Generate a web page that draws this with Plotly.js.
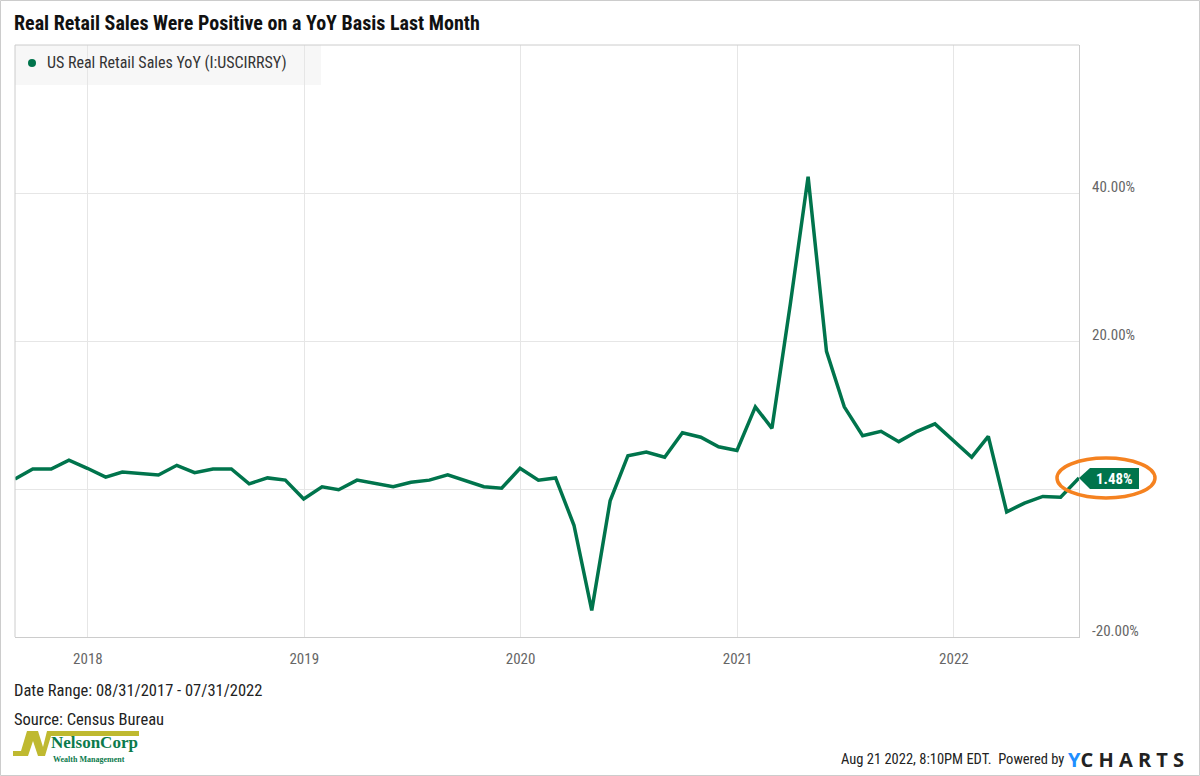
<!DOCTYPE html>
<html><head><meta charset="utf-8">
<script src="https://cdn.plot.ly/plotly-3.0.1.min.js"></script>
<style>html,body{margin:0;padding:0;background:#fff;}#chart{width:1200px;height:776px;}</style>
</head><body><div id="chart"></div>
<script>
// ---- data ----
const dates = [
 '2017-08-31','2017-09-30','2017-10-31','2017-11-30','2017-12-31',
 '2018-01-31','2018-02-28','2018-03-31','2018-04-30','2018-05-31','2018-06-30','2018-07-31','2018-08-31','2018-09-30','2018-10-31','2018-11-30','2018-12-31',
 '2019-01-31','2019-02-28','2019-03-31','2019-04-30','2019-05-31','2019-06-30','2019-07-31','2019-08-31','2019-09-30','2019-10-31','2019-11-30','2019-12-31',
 '2020-01-31','2020-02-29','2020-03-31','2020-04-30','2020-05-31','2020-06-30','2020-07-31','2020-08-31','2020-09-30','2020-10-31','2020-11-30','2020-12-31',
 '2021-01-31','2021-02-28','2021-03-31','2021-04-30','2021-05-31','2021-06-30','2021-07-31','2021-08-31','2021-09-30','2021-10-31','2021-11-30','2021-12-31',
 '2022-01-31','2022-02-28','2022-03-31','2022-04-30','2022-05-31','2022-06-30','2022-07-31'
];
const yoy = [
 1.35, 2.7, 2.7, 3.9, 2.8,
 1.6, 2.3, 2.1, 1.9, 3.2, 2.2, 2.7, 2.7, 0.7, 1.5, 1.2, -1.35,
 0.3, -0.1, 1.2, 0.7, 0.3, 0.9, 1.2, 1.9, 1.1, 0.3, 0.1, 2.8,
 1.2, 1.5, -4.9, -16.4, -1.6, 4.5, 5.0, 4.3, 7.6, 7.0, 5.7, 5.2,
 11.1, 8.2, 25.0, 42.2, 18.6, 11.1, 7.2, 7.8, 6.4, 7.8, 8.8, 6.6,
 4.3, 7.1, -3.1, -1.9, -1.0, -1.1, 1.48
];
const seriesName = 'US Real Retail Sales YoY (I:USCIRRSY)';
const lastLabel = '1.48%';
const yTickVals = [-20, 0, 20, 40];
const yTickText = ['-20.00%', '', '20.00%', '40.00%'];
const xTickVals = ['2018-01-01','2019-01-01','2020-01-01','2021-01-01','2022-01-01'];
const xTickText = ['2018','2019','2020','2021','2022'];
const yRange = [-20, 60];

// ---- layout helpers (pixel -> paper) ----
const L = 15, R = 1079, T = 45, B = 637;
const px = x => (x - L) / (R - L);
const py = y => (B - y) / (B - T);

const green = '#00744c';
const font = "Roboto Condensed, 'Liberation Sans Narrow', 'DejaVu Sans Condensed', Roboto, sans-serif";

// last point position in pixels (from data and axis range)
const lastVal = yoy[yoy.length - 1];
const tipX = R;
const tipY = B - (lastVal - yRange[0]) / (yRange[1] - yRange[0]) * (B - T);
function rel(pts){
  return pts.map((p,i)=>(i? 'L':'M') + px(tipX+p[0]).toFixed(5) + ',' + py(tipY+p[1]).toFixed(5)).join(' ') + ' Z';
}
const nPath = [[13,751],[21,751],[27,731],[38,731],[43,747],[47,731],[139,731],[139,736],[51,736],[45,756],[38,756],[33,741],[28,756],[13,756]]
  .map((p,i)=>(i?'L':'M') + px(p[0]).toFixed(5) + ',' + py(p[1]).toFixed(5)).join(' ') + ' Z';

const trace = {
  x: dates, y: yoy, type: 'scatter', mode: 'lines', name: seriesName,
  line: {color: green, width: 3.5}, showlegend: false, hoverinfo: 'x+y'
};

const layout = {
  width: 1200, height: 776,
  margin: {l: L, r: 1200 - R, t: T, b: 776 - B, pad: 0},
  paper_bgcolor: '#ffffff', plot_bgcolor: 'rgba(0,0,0,0)',
  font: {family: font, color: '#666'},
  title: {text: 'Real Retail Sales Were Positive on a YoY Basis Last Month',
    xref: 'container', yref: 'container', x: 14/1200, xanchor: 'left', y: 1 - 23/776, yanchor: 'middle',
    font: {family: font, size: 20, color: '#111', weight: 700}},
  xaxis: {type: 'date', range: [dates[0], dates[dates.length-1]], tickvals: xTickVals, ticktext: xTickText,
    showgrid: true, gridcolor: '#e6e6e6', gridwidth: 1, zeroline: false, showline: true, linecolor: '#cccccc', linewidth: 1,
    ticks: '', ticklabelstandoff: 8, tickfont: {size: 15, color: '#666'}, mirror: false},
  yaxis: {range: yRange, side: 'right', tickvals: yTickVals, ticktext: yTickText,
    showgrid: true, gridcolor: '#e6e6e6', gridwidth: 1, zeroline: false, showline: true, linecolor: '#cccccc', linewidth: 1,
    ticks: '', ticklabelstandoff: 9, ticklabelposition: 'outside top', ticklabelshift: 4, tickfont: {size: 15, color: '#666'}},
  shapes: [
    {type: 'rect', xref: 'paper', yref: 'paper', x0: px(0.5), x1: px(1199.5), y0: py(0.5), y1: py(775.5), line: {color: '#cccccc', width: 1}, fillcolor: 'rgba(0,0,0,0)', layer: 'above'},
    {type: 'line', xref: 'paper', yref: 'paper', x0: 0, x1: 1, y0: 1, y1: 1, line: {color: '#cccccc', width: 1}},
    {type: 'line', xref: 'paper', yref: 'paper', x0: 0, x1: 0, y0: 0, y1: 1, line: {color: '#cccccc', width: 1}},
    {type: 'rect', xref: 'paper', yref: 'paper', x0: px(15), x1: px(321), y0: py(45), y1: py(85), line: {width: 0}, fillcolor: '#f7f7f7', layer: 'below'},
    {type: 'circle', xref: 'paper', yref: 'paper', x0: px(28), x1: px(36), y0: py(59), y1: py(67), line: {width: 0}, fillcolor: green},
    {type: 'path', xref: 'paper', yref: 'paper', path: rel([[0,0],[11,-10],[60,-10],[60,11],[11,11]]), line: {width: 0}, fillcolor: green, layer: 'above'},
    {type: 'circle', xref: 'paper', yref: 'paper', x0: px(tipX-22), x1: px(tipX+76), y0: py(tipY-20), y1: py(tipY+20), line: {color: '#f58220', width: 3.5}, fillcolor: 'rgba(0,0,0,0)', layer: 'above'},
    {type: 'path', xref: 'paper', yref: 'paper', path: nPath, line: {width: 0}, fillcolor: '#bfb930', layer: 'above'}
  ],
  annotations: [
    {xref: 'paper', yref: 'paper', x: px(45), y: py(63), xanchor: 'left', yanchor: 'middle', showarrow: false,
      text: seriesName, font: {family: font, size: 16, color: '#333'}},
    {xref: 'paper', yref: 'paper', x: px(tipX + 35), y: py(tipY + 0.5), xanchor: 'center', yanchor: 'middle', showarrow: false,
      text: '<b>' + lastLabel + '</b>', font: {family: font, size: 15, color: '#ffffff'}},
    {xref: 'paper', yref: 'paper', x: px(12), y: py(690), xanchor: 'left', yanchor: 'middle', showarrow: false,
      text: 'Date Range: 08/31/2017 - 07/31/2022', font: {family: font, size: 16.5, color: '#222'}},
    {xref: 'paper', yref: 'paper', x: px(12), y: py(719), xanchor: 'left', yanchor: 'middle', showarrow: false,
      text: 'Source: Census Bureau', font: {family: font, size: 16.5, color: '#222'}},
    {xref: 'paper', yref: 'paper', x: px(49), y: py(743), xanchor: 'left', yanchor: 'middle', showarrow: false,
      text: '<b>NelsonCorp</b>', font: {family: "'Liberation Serif', 'DejaVu Serif', serif", size: 17, color: '#0b7a4c'}},
    {xref: 'paper', yref: 'paper', x: px(51), y: py(759), xanchor: 'left', yanchor: 'middle', showarrow: false,
      text: '<b>Wealth Management</b>', font: {family: "'Liberation Serif', 'DejaVu Serif', serif", size: 8, color: '#0b7a4c'}},
    {xref: 'paper', yref: 'paper', x: px(1066), y: py(759), xanchor: 'right', yanchor: 'middle', showarrow: false,
      text: 'Aug 21 2022, 8:10PM EDT.&nbsp; Powered by', font: {family: font, size: 14.5, color: '#222'}},
    {xref: 'paper', yref: 'paper', x: px(1066), y: py(759), xanchor: 'left', yanchor: 'middle', showarrow: false,
      text: '<b><span style="color:#1f8fff">Y</span>C H A R T S</b>', font: {family: "'Open Sans', Roboto, sans-serif", size: 20, color: '#222'}}
  ]
};

Plotly.newPlot('chart', [trace], layout, {displayModeBar: false, staticPlot: true});
</script>
</body></html>
